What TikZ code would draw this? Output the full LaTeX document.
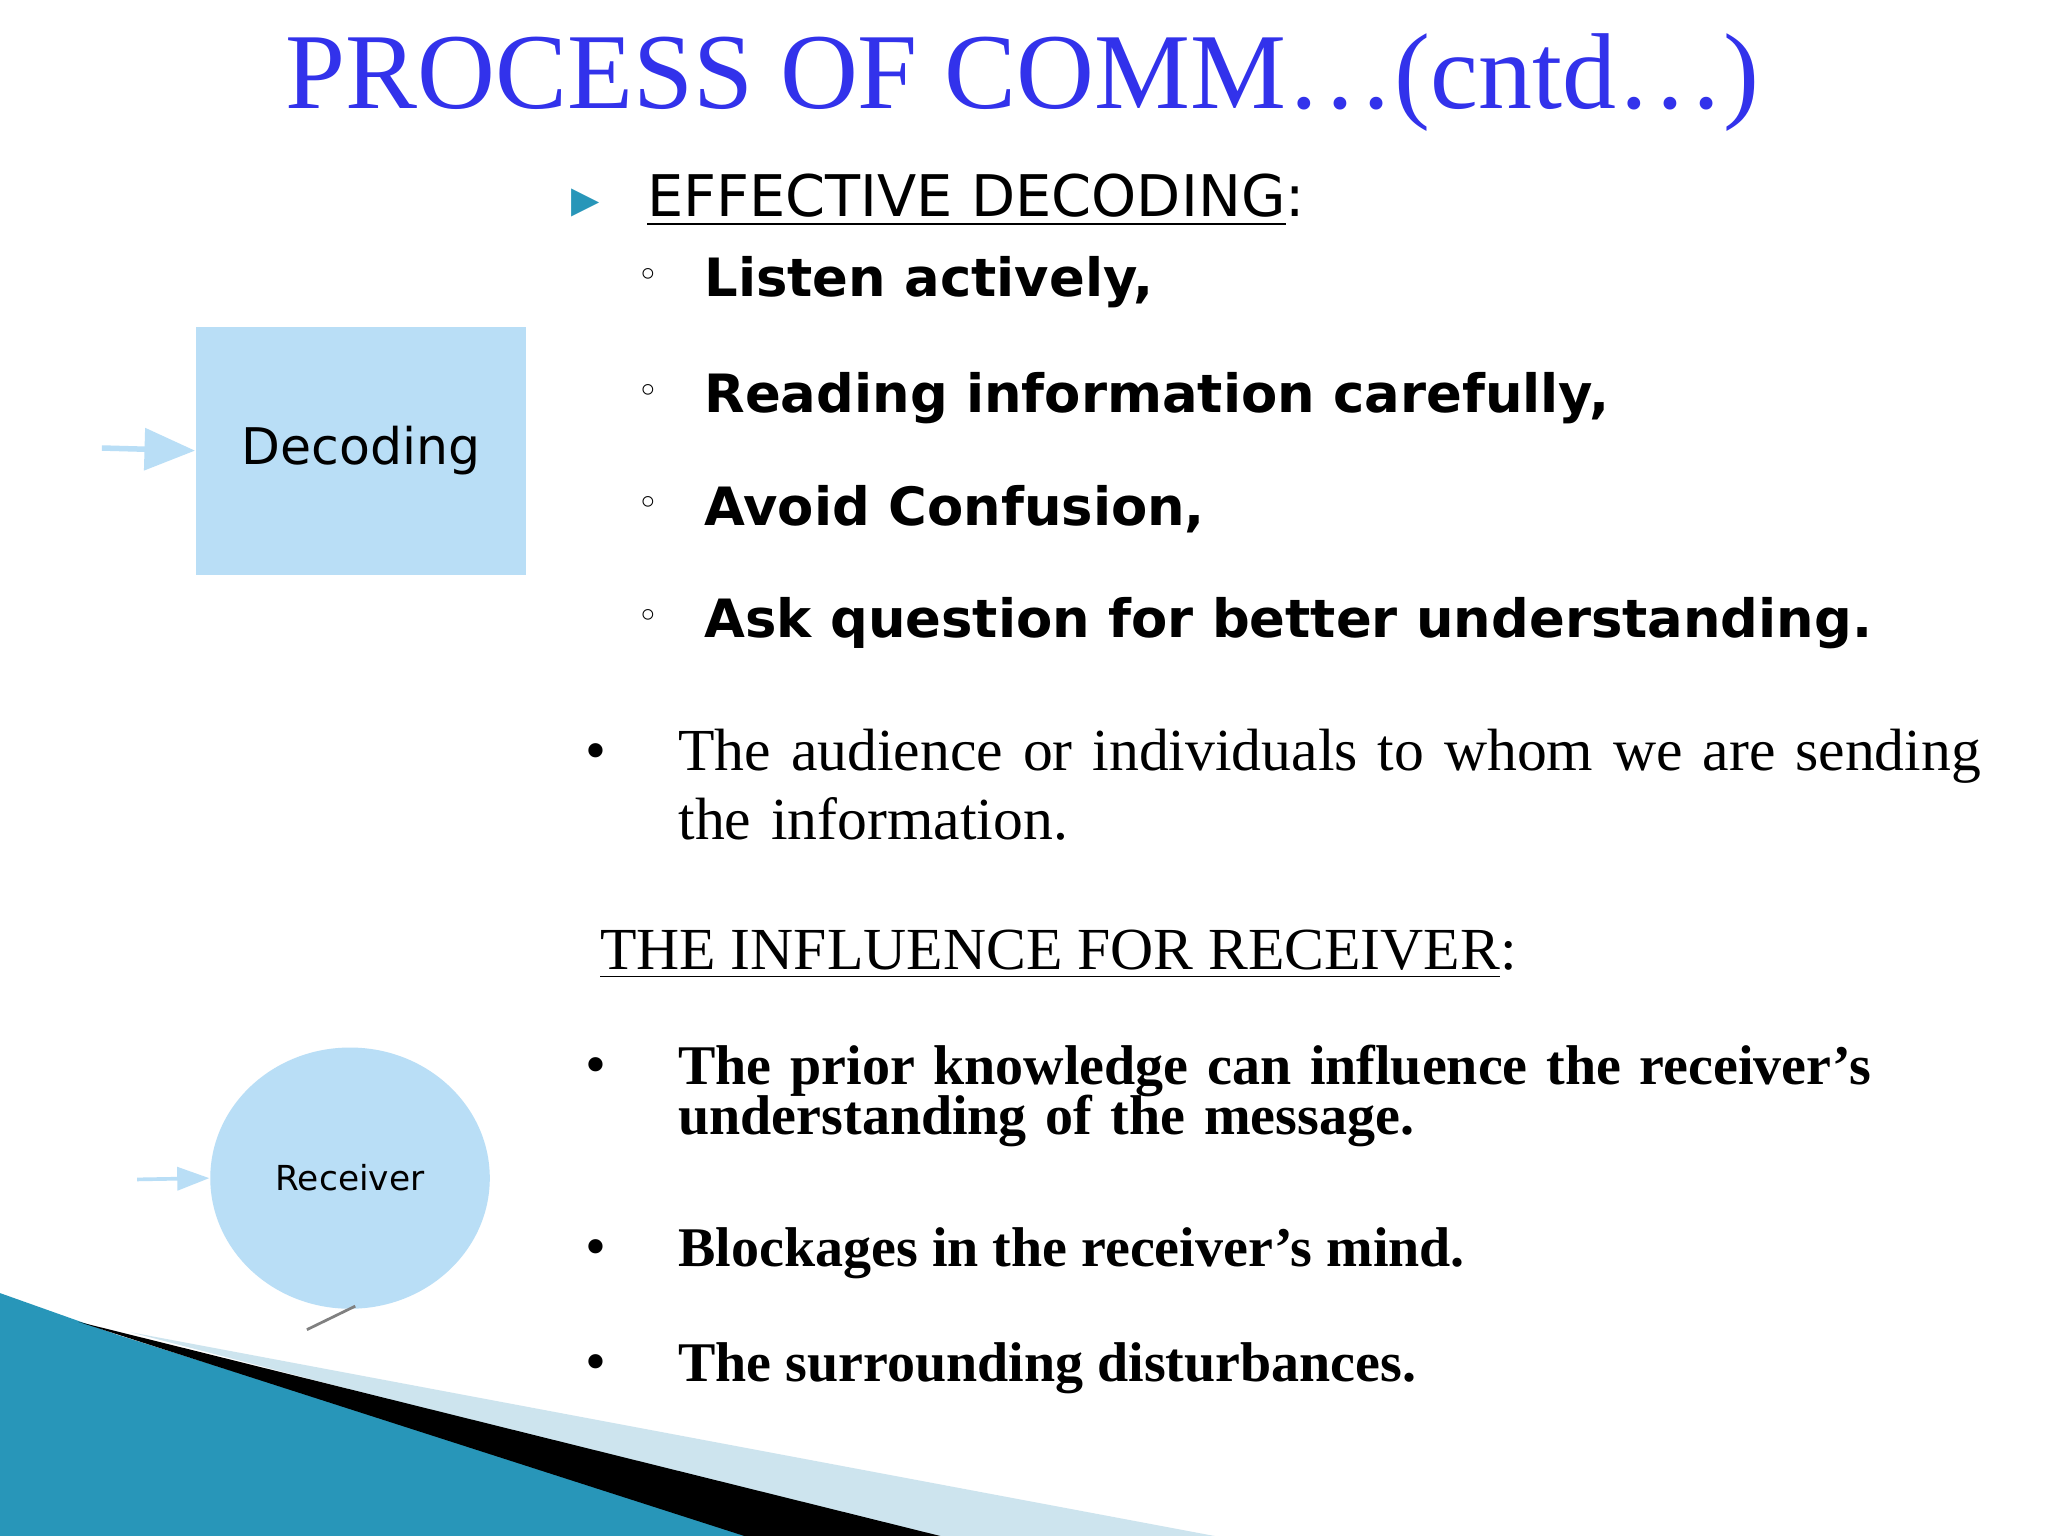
\documentclass[tikz,border=0pt]{standalone}
\usepackage{fontspec}
\setmainfont{Liberation Serif}
\newfontfamily\sansb{DejaVu Sans}
\newfontfamily\verd{DejaVu Sans}
\usetikzlibrary{arrows.meta,shapes.geometric}
\definecolor{boxblue}{RGB}{185,222,246}
\definecolor{titleblue}{RGB}{50,50,235}
\definecolor{teal1}{RGB}{40,150,185}
\definecolor{lightband}{RGB}{205,228,238}
\begin{document}
\begin{tikzpicture}[x=0.1mm,y=-0.1mm,
  sub/.style={anchor=base west,font=\sansb\bfseries\fontsize{11.5}{14}\selectfont},
  ser/.style={anchor=base west,font=\fontsize{13}{17}\selectfont},
  serb/.style={anchor=base west,font=\bfseries\fontsize{12.2}{15}\selectfont},
  circb/.style={anchor=base,font=\sansb\fontsize{8}{10}\selectfont},
  dot/.style={anchor=base,font=\fontsize{13}{15}\selectfont}]
\useasboundingbox (0,0) rectangle (1568,1176);
\fill[white] (0,0) rectangle (1568,1176);
% swoosh
\fill[lightband] (100,1020) -- (930,1176) -- (700,1176) -- cycle;
\fill[teal1] (0,990) -- (90,1022) -- (580,1176) -- (0,1176) -- cycle;
\fill[black] (60,1012) -- (720,1176) -- (570,1176) -- cycle;
% title
\node[anchor=base,text=titleblue,font=\fontsize{23.5}{26}\selectfont] (title) at (783,83) {PROCESS OF COMM…(cntd…)};
% decoding box
\node[fill=boxblue,minimum width=25.3mm,minimum height=19mm,inner sep=0,font=\verd\fontsize{11}{13}\selectfont] (dec) at (276.5,345) {Decoding};
\coordinate (da) at (78,343);
\draw[boxblue,line width=1.2pt,-{Triangle[width=9pt,length=11pt]}] (da) -- (dec.west);
% receiver
\node[ellipse,fill=boxblue,minimum width=21.4mm,minimum height=20mm,inner sep=0,font=\verd\fontsize{7.5}{9}\selectfont] (rec) at (268,902) {Receiver};
\coordinate (ra) at (105,903);
\draw[boxblue,line width=0.8pt,-{Triangle[width=5pt,length=7pt]}] (ra) -- (rec.west);
\coordinate (g1) at (235,1018); \coordinate (g2) at (272,1000);
\draw[gray,line width=0.6pt] (g1) -- (g2);
% heading 1
\node[anchor=base,text=teal1,font=\verd\fontsize{8}{9}\selectfont] (tri) at (448,163) {▶};
\node[anchor=base west,font=\verd\fontsize{12.5}{15}\selectfont] (h1) at (483,166) {\underline{EFFECTIVE DECODING}:};
\node[circb] (ca) at (496,220) {◦};
\node[sub] (sa) at (527,227) {Listen actively,};
\node[circb] (cb) at (496,309) {◦};
\node[sub] (sb) at (527,316) {Reading information carefully,};
\node[circb] (cc) at (496,395) {◦};
\node[sub] (sc) at (527,402) {Avoid Confusion,};
\node[circb] (cd) at (496,481) {◦};
\node[sub] (sd) at (527,488) {Ask question for better understanding.};
\node[dot] (d1) at (456,590) {•};
\node[ser,text width=106mm,align=left] (p1) at (507,590) {The audience or individuals to whom we are sending\\[-2pt] the information.};
\node[ser] (h2) at (447,742) {\underline{THE INFLUENCE FOR RECEIVER}:};
\node[dot] (d2) at (456,830) {•};
\node[serb,text width=106mm,align=left] (p2) at (507,830) {The prior knowledge can influence the receiver’s\\[-4pt] understanding of the message.};
\node[dot] (d3) at (456,970) {•};
\node[serb] (p3) at (507,970) {Blockages in the receiver’s mind.};
\node[dot] (d4) at (456,1058) {•};
\node[serb] (p4) at (507,1058) {The surrounding disturbances.};
\end{tikzpicture}
\end{document}
